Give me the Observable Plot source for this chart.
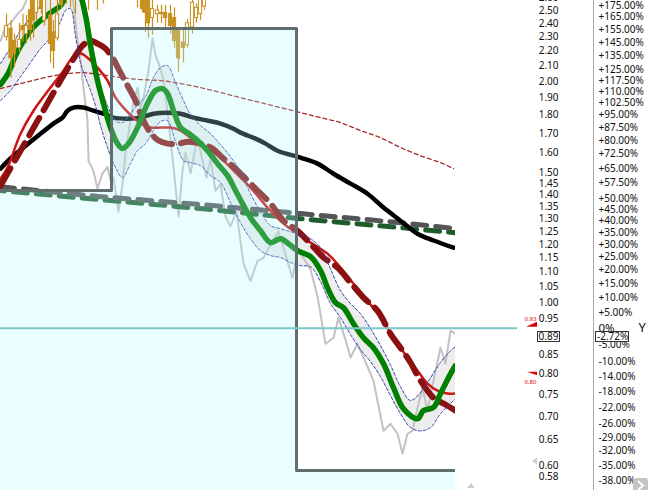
<!DOCTYPE html>
<html><head><meta charset="utf-8">
<script src="https://cdn.jsdelivr.net/npm/d3@7"></script>
<script src="https://cdn.jsdelivr.net/npm/@observablehq/plot@0.6"></script>
<style>body{margin:0;background:#fff;} svg{display:block;}</style>
</head><body><div id="chart"></div>
<script>
// ---------- data ----------
const base = 0.923;          // 0% reference price
const curPct = -2.72;        // current change
const curLabel = "0.89";
const upperAlert = [0.93];
const lowerAlert = [0.80];

const priceTicks = [2.6,2.5,2.4,2.3,2.2,2.1,2.0,1.9,1.8,1.7,1.6,1.5,1.45,1.4,1.35,1.3,1.25,1.2,1.15,1.1,1.05,1.0,0.95,0.85,0.8,0.75,0.7,0.65,0.6,0.58];
const pctTicks = [175,165,155,145,135,125,117.5,110,102.5,95,87.5,80,72.5,65,57.5,50,45,40,35,30,25,20,15,10,5,0,-5,-10,-14,-18,-22,-26,-29,-32,-35,-38];

const grayT = [0,5,10,17,22,28,35,50,65,72,77,80,83,87,88,93,97,102,107,110,113,118,122,125,130,133,137,140,143,148,152,155,158,163,168,173,178,182,185,190,197,202,206,210,215,220,225,230,236,243,250,257,263,270,278,286,292,297,303,310,317,325,333,338,345,350,357,363,373,383,390,397,402,407,412,417,422,427,433,440,445,450,455];
const grayP = [2.27,2.38,2.40,2.47,2.51,2.62,2.70,2.74,2.70,2.62,2.27,2.14,1.96,1.77,1.56,1.51,1.43,1.50,1.53,1.47,1.48,1.33,1.45,1.60,1.77,1.88,1.96,1.84,1.90,2.07,2.29,2.17,2.12,2.01,1.77,1.53,1.31,1.51,1.60,1.50,1.68,1.56,1.48,1.57,1.42,1.45,1.31,1.27,1.33,1.13,1.07,1.14,1.15,1.20,1.25,1.15,1.08,1.18,1.15,1.11,1.02,0.879,0.896,0.954,0.89,0.842,0.879,0.842,0.783,0.669,0.684,0.663,0.623,0.663,0.669,0.719,0.766,0.713,0.783,0.868,0.826,0.916,0.907];

const greenT = [0,8,15,22,30,40,50,60,70,78,85,90,97,103,110,117,122,128,137,147,155,162,167,173,180,187,197,207,217,227,235,242,250,260,270,280,288,297,310,320,327,335,343,353,363,373,383,393,403,417,423,433,440,450,455];
const greenP = [1.981,2.056,2.169,2.259,2.346,2.421,2.481,2.537,2.659,2.642,2.459,2.238,2.006,1.866,1.731,1.646,1.621,1.646,1.731,1.866,1.944,1.956,1.926,1.825,1.731,1.704,1.662,1.610,1.546,1.489,1.421,1.364,1.305,1.253,1.207,1.222,1.203,1.177,1.155,1.106,1.048,1.000,0.984,0.936,0.896,0.868,0.826,0.766,0.717,0.695,0.713,0.720,0.752,0.800,0.821];

const bandT = [0,10,20,30,40,50,60,65,70,75,80,85,90,95,100,107,115,122,130,137,145,153,160,167,175,183,190,200,210,220,230,240,250,260,270,280,290,300,310,320,330,340,350,360,370,380,390,400,410,420,430,440,450,455];
const bandUpper = [2.115,2.224,2.346,2.443,2.537,2.618,2.701,2.743,2.787,2.761,2.701,2.537,2.324,2.122,1.975,1.854,1.769,1.758,1.808,1.860,1.908,2.025,2.089,2.102,1.993,1.884,1.803,1.742,1.698,1.641,1.580,1.508,1.407,1.330,1.273,1.261,1.249,1.238,1.222,1.188,1.112,1.038,0.997,0.966,0.922,0.874,0.823,0.768,0.736,0.754,0.790,0.829,0.860,0.871];
const bandLower = [1.884,1.944,2.031,2.122,2.217,2.295,2.413,2.498,2.513,2.309,2.122,2.025,1.944,1.854,1.742,1.626,1.527,1.480,1.546,1.610,1.646,1.715,1.764,1.769,1.656,1.561,1.551,1.536,1.489,1.457,1.368,1.285,1.222,1.177,1.159,1.152,1.134,1.123,1.119,1.068,0.997,0.954,0.905,0.863,0.831,0.793,0.747,0.706,0.676,0.669,0.676,0.706,0.729,0.740];

const redT = [0,7,20,33,50,63,72,80,87,97,107,115,123,133,140,150,160,170,180,190,200,210,220,233,250,267,283,297,310,327,340,353,367,380,393,407,417,427,437,447,455];
const redP = [1.475,1.527,1.698,1.825,1.962,2.069,2.155,2.183,2.155,2.089,2.006,1.901,1.843,1.786,1.753,1.731,1.731,1.731,1.715,1.677,1.646,1.610,1.575,1.513,1.434,1.347,1.281,1.241,1.207,1.166,1.116,1.061,1.006,0.954,0.896,0.842,0.808,0.776,0.759,0.752,0.752];

const darkRedT = [0,20,40,60,75,82,90,97,105,112,120,127,135,142,150,158,167,178,188,200,212,222,235,247,257,270,283,297,310,323,337,350,363,377,390,400,410,420,433,443,455];
const darkRedP = [1.443,1.610,1.797,2.006,2.169,2.238,2.273,2.252,2.217,2.155,2.056,1.975,1.884,1.780,1.704,1.662,1.646,1.646,1.656,1.646,1.621,1.575,1.522,1.466,1.421,1.364,1.293,1.253,1.203,1.152,1.116,1.065,1.016,0.975,0.907,0.868,0.829,0.783,0.742,0.729,0.713];

const blackT = [0,10,23,40,53,62,67,73,83,93,103,113,127,140,153,167,180,193,207,220,233,240,255,265,277,300,317,333,350,367,383,400,417,433,453];
const blackP = [1.522,1.571,1.626,1.698,1.753,1.786,1.825,1.843,1.843,1.825,1.808,1.786,1.780,1.786,1.808,1.814,1.808,1.786,1.769,1.753,1.725,1.704,1.672,1.646,1.610,1.575,1.546,1.498,1.452,1.407,1.347,1.293,1.241,1.215,1.188];

const longT = [0,20,40,60,80,100,120,140,160,180,200,220,240,260,280,300,320,340,360,380,400,420,440,453];
const longP = [1.956,1.987,2.018,2.044,2.056,2.044,2.025,2.012,2.006,1.987,1.962,1.932,1.901,1.872,1.843,1.814,1.786,1.758,1.715,1.677,1.626,1.585,1.551,1.522];

const trendT = [0,100,200,300,400,455];
const trendGray = [1.438,1.394,1.360,1.322,1.285,1.261];
const trendGreen = [1.421,1.381,1.343,1.301,1.265,1.245];

const candleT     = [6,10.5,14,19,22.5,26,30,33,36,41,44,50,53,57,61,66,70,75,88,97,103,137,142,145,148,152,157,161,165,170,174,178,183,187,192,196,200,204];
const candleOpen  = [2.30,2.36,2.27,2.22,2.38,2.32,2.50,2.60,2.48,2.64,2.42,2.46,2.33,2.29,2.62,2.70,2.72,2.68,2.70,2.66,2.70,2.75,2.66,2.62,2.60,2.44,2.47,2.48,2.48,2.47,2.44,2.35,2.26,2.24,2.37,2.44,2.47,2.53];
const candleClose = [2.38,2.15,2.18,2.28,2.35,2.38,2.35,2.42,2.62,2.51,2.60,2.25,2.20,2.47,2.54,2.64,2.66,2.74,2.64,2.72,2.65,2.68,2.51,2.48,2.40,2.51,2.50,2.47,2.44,2.38,2.27,2.15,2.22,2.40,2.56,2.52,2.60,2.64];
const candleHigh  = [2.47,2.42,2.32,2.40,2.47,2.46,2.62,2.66,2.68,2.70,2.66,2.60,2.42,2.60,2.66,2.76,2.78,2.80,2.78,2.76,2.74,2.80,2.72,2.66,2.64,2.60,2.54,2.54,2.54,2.54,2.52,2.36,2.35,2.43,2.62,2.55,2.66,2.68];
const candleLow   = [2.27,2.02,2.09,2.19,2.26,2.25,2.27,2.29,2.42,2.47,2.38,2.12,2.08,2.27,2.51,2.55,2.52,2.47,2.50,2.50,2.55,2.52,2.48,2.33,2.29,2.31,2.40,2.40,2.37,2.32,2.22,2.06,2.12,2.22,2.32,2.40,2.42,2.50];

const boxStart = [-5, 111, 296];
const boxEnd   = [111, 296, 455];
const boxTop   = [1.421, 2.361, 0.591];

// ---------- build ----------
const rows = (T, P) => T.map((t, i) => ({t, p: P[i]}));
const band = bandT.map((t, i) => ({t, up: bandUpper[i], lo: bandLower[i]}));
const candles = candleT.map((t, i) => ({t, o: candleOpen[i], c: candleClose[i], h: candleHigh[i], l: candleLow[i]}));
const boxes = boxStart.map((s, i) => ({s, e: boxEnd[i], top: boxTop[i]}));
const outline = boxes.map(b => ({t: b.s, p: b.top})).concat([{t: boxEnd[2], p: boxTop[2]}]);
const gold = "#c8901c";
const fmtPct = d => d === 0 ? "0%" : (d > 0 ? "+" : "") + d.toFixed(2) + "%";
const curPrice = base * (1 + curPct / 100);

const plot = Plot.plot({
  width: 650, height: 490,
  marginLeft: 0, marginRight: 195, marginTop: 0, marginBottom: 0,
  style: {fontFamily: "'Noto Sans', sans-serif", fontSize: "10px", background: "white", color: "#111", overflow: "visible"},
  x: {domain: [0, 455], axis: null},
  y: {type: "log", domain: [0.555, 2.578], axis: null},
  marks: [
    Plot.areaY(band, {x: "t", y1: "up", y2: "lo", fill: "#d4d4d4", fillOpacity: 0.42, curve: "catmull-rom", clip: true}),
    Plot.line(rows(grayT, grayP), {x: "t", y: "p", stroke: "#c2c2c2", strokeWidth: 2, clip: true}),
    Plot.line(rows(longT, longP), {x: "t", y: "p", stroke: "#a52a2a", strokeWidth: 1.3, strokeDasharray: "4,3", curve: "catmull-rom", clip: true}),
    Plot.line(rows(trendT, trendGreen), {x: "t", y: "p", stroke: "#1f5c2c", strokeWidth: 5, strokeDasharray: "14,9", strokeDashoffset: 10, clip: true}),
    Plot.line(rows(trendT, trendGray), {x: "t", y: "p", stroke: "#555555", strokeWidth: 5, strokeDasharray: "14,9", clip: true}),
    Plot.line(rows(blackT, blackP), {x: "t", y: "p", stroke: "#000", strokeWidth: 4.5, curve: "catmull-rom", clip: true}),
    Plot.line(rows(redT, redP), {x: "t", y: "p", stroke: "#d01414", strokeWidth: 2.5, curve: "catmull-rom", clip: true}),
    Plot.line(rows(darkRedT, darkRedP), {x: "t", y: "p", stroke: "#8b1010", strokeWidth: 6, strokeDasharray: "20,9", curve: "catmull-rom", clip: true}),
    Plot.line(band, {x: "t", y: "up", stroke: "#3343ad", strokeWidth: 1, strokeDasharray: "3,2", curve: "catmull-rom", clip: true}),
    Plot.line(band, {x: "t", y: "lo", stroke: "#3343ad", strokeWidth: 1, strokeDasharray: "3,2", curve: "catmull-rom", clip: true}),
    Plot.line(rows(greenT, greenP), {x: "t", y: "p", stroke: "#008000", strokeWidth: 5.5, curve: "catmull-rom", clip: true}),
    Plot.ruleX(candles, {x: "t", y1: "l", y2: "h", stroke: gold, strokeWidth: 1.2, clip: true}),
    Plot.rect(candles, {x1: d => d.t - 1.6, x2: d => d.t + 1.6, y1: "o", y2: "c", fill: d => d.c > d.o ? "white" : gold, stroke: gold, strokeWidth: 1, clip: true}),
    Plot.rect(boxes, {x1: "s", x2: "e", y1: "top", y2: () => 0.5, fill: "#b3fbff", fillOpacity: 0.26, clip: true}),
    Plot.line(outline, {x: "t", y: "p", curve: "step-after", stroke: "#5f6e6e", strokeWidth: 3, clip: true}),
    Plot.ruleY([base], {x1: 0, x2: 517, stroke: "#7cc7c7", strokeWidth: 2}),
    Plot.text(priceTicks, {y: d => d, text: d => d.toFixed(2), frameAnchor: "right", dx: 103, textAnchor: "end", fill: "#111"}),
    Plot.text(pctTicks, {y: d => base * (1 + d / 100), text: fmtPct, frameAnchor: "right", dx: 143, textAnchor: "start", fill: "#111", fontSize: d => d === 0 ? 11.5 : 10}),
    Plot.text(["Y"], {y: () => base, text: d => d, frameAnchor: "right", dx: 183, textAnchor: "start", fontSize: 13, fill: "#111"}),
    Plot.text(upperAlert, {y: d => d, text: d => d.toFixed(2), frameAnchor: "right", dx: 75, dy: -7, textAnchor: "middle", fontSize: 6, fill: "#e00000"}),
    Plot.text(lowerAlert, {y: d => d, text: d => d.toFixed(2), frameAnchor: "right", dx: 75, dy: 8, textAnchor: "middle", fontSize: 6, fill: "#e00000"})
  ]
});

document.getElementById("chart").append(plot);

// ---------- decorations ----------
const svg = d3.select(plot);
const ys = plot.scale("y");

svg.append("line").attr("x1", 593.5).attr("x2", 593.5).attr("y1", 0).attr("y2", 490).attr("stroke", "#a9a9a9").attr("stroke-width", 1);

const y93 = ys.apply(upperAlert[0]);
svg.append("polygon").attr("points", `526,${y93+1.5} 537,${y93-3.5} 537,${y93+1.5}`).attr("fill", "#e00000");
const y80 = ys.apply(lowerAlert[0]);
svg.append("polygon").attr("points", `527,${y80-1.5} 537,${y80-1.5} 537,${y80+2}`).attr("fill", "#e00000");

const cy = ys.apply(curPrice);
const g = svg.append("g").attr("font-family", "'Noto Sans', sans-serif").attr("font-size", 10).attr("text-anchor", "start");
g.append("rect").attr("x", 537.5).attr("y", cy - 5).attr("width", 22).attr("height", 10).attr("fill", "white").attr("stroke", "#333");
g.append("text").attr("x", 548.5).attr("y", cy).attr("dy", "0.34em").attr("text-anchor", "middle").attr("fill", "#111").text(curLabel);
g.append("rect").attr("x", 595.5).attr("y", cy - 5).attr("width", 33).attr("height", 10).attr("fill", "white").attr("stroke", "#333");
g.append("text").attr("x", 597).attr("y", cy).attr("dy", "0.34em").attr("text-anchor", "start").attr("fill", "#111").text(curPct.toFixed(2) + "%");

svg.append("polygon").attr("points", "532,461 537,457.5 537,464.5").attr("fill", "#cfcfcf");
svg.append("polygon").attr("points", "467,488 471,483 475,488").attr("fill", "#cfcfcf");
svg.append("rect").attr("x", 633).attr("y", 478).attr("width", 15).attr("height", 15).attr("rx", 3).attr("fill", "#c4c4c4");
svg.append("path").attr("d", "M638,481 L643,485.5 L638,490").attr("fill", "none").attr("stroke", "white").attr("stroke-width", 2);
</script></body></html>
